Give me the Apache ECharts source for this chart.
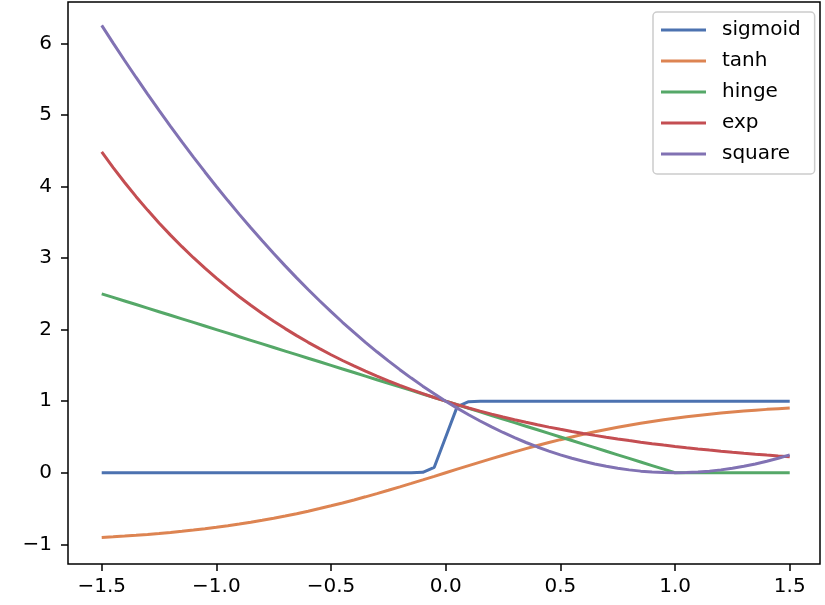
<!DOCTYPE html>
<html><head><meta charset="utf-8">
<script src="https://cdn.jsdelivr.net/npm/echarts@6/dist/echarts.min.js"></script>
<style>html,body{margin:0;padding:0;background:#fff}#c{width:825px;height:605px}</style>
</head><body><div id="c"></div>
<script>
const xs = [-1.5,-1.45,-1.4,-1.35,-1.3,-1.25,-1.2,-1.15,-1.1,-1.05,-1.0,-0.95,-0.9,-0.85,-0.8,-0.75,-0.7,-0.65,-0.6,-0.55,-0.5,-0.45,-0.4,-0.35,-0.3,-0.25,-0.2,-0.15,-0.1,-0.05,0,0.05,0.1,0.15,0.2,0.25,0.3,0.35,0.4,0.45,0.5,0.55,0.6,0.65,0.7,0.75,0.8,0.85,0.9,0.95,1.0,1.05,1.1,1.15,1.2,1.25,1.3,1.35,1.4,1.45,1.5];
const sigmoid = [0,0,0,0,0,0,0,0,0,0,0,0,0,0,0,0,0,0,0,0,0,0,0,0,0,0,0,0,0.0067,0.0759,0.5,0.9241,0.9933,0.9994,1,1,1,1,1,1,1,1,1,1,1,1,1,1,1,1,1,1,1,1,1,1,1,1,1,1,1];
const tanh = [-0.9051,-0.8957,-0.8854,-0.8741,-0.8617,-0.8483,-0.8337,-0.8178,-0.8005,-0.7818,-0.7616,-0.7398,-0.7163,-0.6911,-0.6640,-0.6351,-0.6044,-0.5717,-0.5370,-0.5005,-0.4621,-0.4219,-0.3799,-0.3364,-0.2913,-0.2449,-0.1974,-0.1489,-0.0997,-0.0500,0,0.0500,0.0997,0.1489,0.1974,0.2449,0.2913,0.3364,0.3799,0.4219,0.4621,0.5005,0.5370,0.5717,0.6044,0.6351,0.6640,0.6911,0.7163,0.7398,0.7616,0.7818,0.8005,0.8178,0.8337,0.8483,0.8617,0.8741,0.8854,0.8957,0.9051];
const hinge = [2.5,2.45,2.4,2.35,2.3,2.25,2.2,2.15,2.1,2.05,2.0,1.95,1.9,1.85,1.8,1.75,1.7,1.65,1.6,1.55,1.5,1.45,1.4,1.35,1.3,1.25,1.2,1.15,1.1,1.05,1.0,0.95,0.9,0.85,0.8,0.75,0.7,0.65,0.6,0.55,0.5,0.45,0.4,0.35,0.3,0.25,0.2,0.15,0.1,0.05,0,0,0,0,0,0,0,0,0,0,0];
const expLoss = [4.4817,4.2631,4.0552,3.8574,3.6693,3.4903,3.3201,3.1582,3.0042,2.8577,2.7183,2.5857,2.4596,2.3396,2.2255,2.1170,2.0138,1.9155,1.8221,1.7333,1.6487,1.5683,1.4918,1.4191,1.3499,1.2840,1.2214,1.1618,1.1052,1.0513,1.0,0.9512,0.9048,0.8607,0.8187,0.7788,0.7408,0.7047,0.6703,0.6376,0.6065,0.5769,0.5488,0.5220,0.4966,0.4724,0.4493,0.4274,0.4066,0.3867,0.3679,0.3499,0.3329,0.3166,0.3012,0.2865,0.2725,0.2592,0.2466,0.2346,0.2231];
const square = [6.25,6.0025,5.76,5.5225,5.29,5.0625,4.84,4.6225,4.41,4.2025,4.0,3.8025,3.61,3.4225,3.24,3.0625,2.89,2.7225,2.56,2.4025,2.25,2.1025,1.96,1.8225,1.69,1.5625,1.44,1.3225,1.21,1.1025,1.0,0.9025,0.81,0.7225,0.64,0.5625,0.49,0.4225,0.36,0.3025,0.25,0.2025,0.16,0.1225,0.09,0.0625,0.04,0.0225,0.01,0.0025,0,0.0025,0.01,0.0225,0.04,0.0625,0.09,0.1225,0.16,0.2025,0.25];
const seriesNames = ['sigmoid','tanh','hinge','exp','square'];
const seriesValues = [sigmoid, tanh, hinge, expLoss, square];
const colors = ['#4C72B0','#DD8452','#55A868','#C44E52','#8172B3'];
const xTicks = [-1.5,-1.0,-0.5,0,0.5,1.0,1.5];
const yTicks = [-1,0,1,2,3,4,5,6];

const minus = v => (v < 0 ? '\u2212' : '') ;
const font = 'DejaVu Sans';
const chart = echarts.init(document.getElementById('c'), null, {renderer:'canvas'});
chart.setOption({
  animation: false,
  backgroundColor: '#fff',
  color: colors,
  grid: {left: 68, right: 5, top: 2, bottom: 41, show: true, borderColor: '#000', borderWidth: 1.5, backgroundColor: 'transparent'},
  xAxis: {
    type: 'value', min: -1.647, max: 1.632,
    axisLine: {show: false, onZero: false},
    splitLine: {show: false},
    axisTick: {show: true, length: 7, customValues: xTicks, lineStyle: {color: '#000', width: 1.5}},
    axisLabel: {customValues: xTicks, margin: 13, color: '#000', fontSize: 20, fontFamily: font,
      formatter: v => minus(v) + Math.abs(v).toFixed(1)}
  },
  yAxis: {
    type: 'value', min: -1.275, max: 6.577,
    axisLine: {show: false, onZero: false},
    splitLine: {show: false},
    axisTick: {show: true, length: 7, customValues: yTicks, lineStyle: {color: '#000', width: 1.5}},
    axisLabel: {customValues: yTicks, margin: 16, color: '#000', fontSize: 20, fontFamily: font,
      formatter: v => minus(v) + Math.abs(Math.round(v))}
  },
  legend: {
    orient: 'vertical', left: 653, top: 12,
    data: seriesNames,
    icon: 'rect', itemWidth: 45, itemHeight: 3, itemGap: 11,
    backgroundColor: '#fff', borderColor: '#cccccc', borderWidth: 1.5, borderRadius: 4,
    padding: [8, 14, 10, 8],
    textStyle: {fontSize: 20, fontFamily: font, color: '#000', lineHeight: 20, padding: [0,0,0,11]}
  },
  series: seriesNames.map((n, i) => ({
    name: n, type: 'line', showSymbol: false, symbol: 'none',
    lineStyle: {width: 3, color: colors[i]},
    itemStyle: {color: colors[i]},
    data: xs.map((x, j) => [x, seriesValues[i][j]])
  }))
});
</script>
</body></html>
